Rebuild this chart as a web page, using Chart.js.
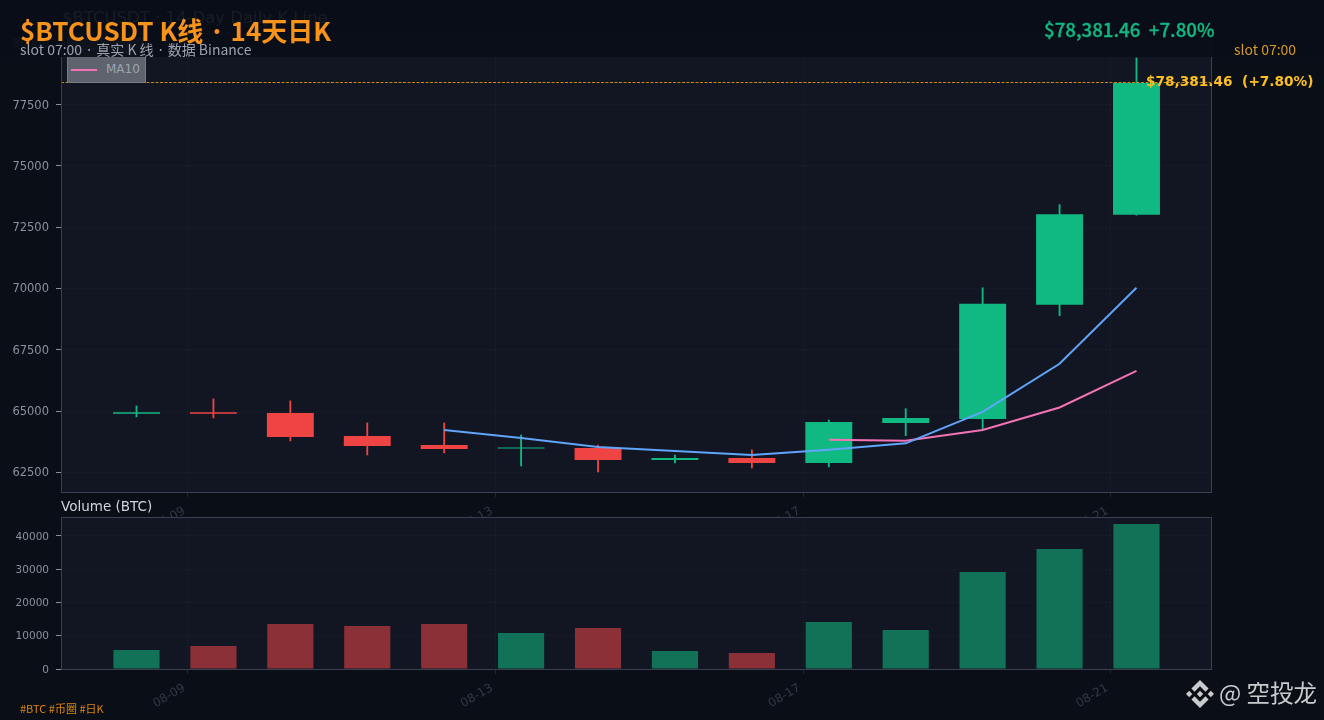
<!DOCTYPE html>
<html>
<head>
<meta charset="utf-8">
<style>
  html, body { margin: 0; padding: 0; background: #0a0e17; }
  #page { position: relative; width: 1324px; height: 720px; overflow: hidden; background: #0a0e17; font-family: "Noto Sans CJK JP", "Noto Sans CJK SC", "Noto Sans", sans-serif; }
  canvas { position: absolute; left: 0; }
  #page div, #page svg { position: absolute; white-space: pre; }
  #ghost { left: 62px; top: 8px; font: 16.5px "DejaVu Sans"; color: #e5e7eb; }
  #topBand { left: 0; top: 0; width: 1324px; height: 57px; background: rgba(10, 14, 23, 0.94); }
  #legendBox { left: 67px; top: 37px; width: 77px; height: 44px; background: #5f636e; border: 1px solid #777b85; }
  .swatch { left: 71px; width: 26px; height: 2px; }
  .legendText { left: 106px; font: 12px "DejaVu Sans"; color: #9ca3af; }
  #title { left: 20px; top: 11px; font-size: 26px; line-height: 38px; font-weight: 700; color: #f7931a; }
  #subtitle { left: 20px; top: 39px; font-size: 14px; line-height: 20px; color: #9ca3af; }
  #price { left: 1044px; top: 16px; font-size: 18.7px; line-height: 26px; font-weight: 500; color: #10b981; -webkit-text-stroke: 0.3px #10b981; }
  #slot { left: 1234px; top: 39px; font-size: 14px; line-height: 20px; color: #d39a2a; }
  #lastLabel { left: 1146px; top: 73px; font: bold 13.7px "DejaVu Sans"; color: #fbbf24; }
  #volTitle { left: 61px; top: 498px; font: 13.5px "DejaVu Sans"; color: #d1d5db; }
  #tags { left: 20px; top: 700px; font-size: 11px; line-height: 16px; color: #d9860f; }
  #mark { left: 1219px; top: 675px; font-size: 23.5px; line-height: 34px; color: #c9cbcd; }
</style>
</head>
<body>
<div id="page">
  <canvas id="chartPrecio" width="1324" height="560" style="top:0;width:1324px;height:560px"></canvas>
  <canvas id="chartVolumen" width="1324" height="210" style="top:510px;width:1324px;height:210px"></canvas>

  <div id="legendBox"></div>
  <div class="swatch" style="top:48px;background:#60a5fa"></div>
  <div class="legendText" style="top:42px">MA5</div>
  <div class="swatch" style="top:69px;background:#f472b6"></div>
  <div class="legendText" style="top:62px">MA10</div>

  <div id="ghost">$BTCUSDT · 14-Day Daily K Line</div>
  <div id="topBand"></div>

  <div id="title">$BTCUSDT K线 · 14天日K</div>
  <div id="subtitle">slot 07:00 · 真实 K 线 · 数据 Binance</div>
  <div id="price">$78,381.46  +7.80%</div>
  <div id="slot">slot 07:00</div>
  <div id="lastLabel">$78,381.46  (+7.80%)</div>
  <div id="volTitle">Volume (BTC)</div>
  <div id="tags">#BTC #币圈 #日K</div>
  <svg style="left:1186px;top:680px" width="28" height="28" viewBox="0 0 126.61 126.61" fill="#c9cbcd">
    <path d="M38.73 53.2l24.59-24.58 24.6 24.6 14.3-14.31L63.32 0 24.43 38.9z"/>
    <path d="M0 63.31l14.3-14.31 14.31 14.31-14.31 14.3z"/>
    <path d="M38.73 73.41l24.59 24.59 24.6-24.6 14.31 14.29-38.9 38.91-38.91-38.88z"/>
    <path d="M98 63.31l14.3-14.31 14.31 14.3-14.31 14.32z"/>
    <path d="M77.83 63.3L63.32 48.78 52.59 59.51l-1.24 1.23-2.54 2.54 14.51 14.5 14.51-14.47z"/>
  </svg>
  <div id="mark">@ 空投龙</div>
</div>

<script src="https://cdn.jsdelivr.net/npm/chart.js@4/dist/chart.umd.js"></script>
<script>
// dia del mes + 8h, una vela por dia
const dias = [8, 9, 10, 11, 12, 13, 14, 15, 16, 17, 18, 19, 20, 21];
const horaVela = 1 / 3;

const aperturas = [64890, 64960, 64930, 63990, 63620, 63480, 63500, 63010, 63090, 62890, 64520, 64680, 69340, 73010];
const cierres = [64960, 64890, 63950, 63580, 63460, 63500, 63010, 63090, 62890, 64560, 64720, 69378, 73030, 78381.46];
const maximos = [65214, 65500, 65420, 64520, 64520, 64030, 63620, 63215, 63420, 64640, 65100, 70030, 73420, 79400];
const minimos = [64765, 64725, 63785, 63215, 63300, 62765, 62520, 62890, 62685, 62725, 64000, 64235, 68890, 72990];

const ma5 = [null, null, null, null, 64235, 63908, 63540, 63380, 63215, 63430, 63690, 64970, 66930, 70030];
const ma10 = [null, null, null, null, null, null, null, null, null, 63830, 63790, 64235, 65150, 66640];

const volumenes = [5714, 6900, 13530, 12930, 13530, 10830, 12330, 5410, 4810, 14130, 11730, 29170, 36090, 43600];

const ticksPrecio = [62500, 65000, 67500, 70000, 72500, 75000, 77500, 80000];
const ticksVolumen = [0, 10000, 20000, 30000, 40000];
const ticksDia = [9, 13, 17, 21];
const etiquetasDia = ["08-09", "08-13", "08-17", "08-21"];

const VERDE = "#10b981";
const ROJO = "#ef4444";
const FONDO_PLOT = "#111622";
const BORDE = "#3a4052";
const GRID = "#191e29";
const TEXTO_TICK = "#8b909b";

const xVela = dias.map(d => d + horaVela);
const esVerde = aperturas.map((a, i) => cierres[i] >= a);
const colorVela = esVerde.map(v => (v ? VERDE : ROJO));
const colorVolumen = esVerde.map(v => (v ? "#117257" : "#8b3036"));

const fondoPlot = {
    id: "fondoPlot",
    beforeDraw(chart) {
        const a = chart.chartArea;
        chart.ctx.save();
        chart.ctx.fillStyle = FONDO_PLOT;
        chart.ctx.fillRect(a.left, a.top, a.right - a.left, a.bottom - a.top);
        chart.ctx.restore();

        // ajuste fino de las etiquetas de los ejes
        chart.scales.y.getLabelItems().forEach(it => { it.options.translation[1] += 1; });
        chart.scales.x.getLabelItems().forEach(it => { it.options.translation[0] -= 3.5; });
    },
    afterDraw(chart) {
        const a = chart.chartArea;
        chart.ctx.save();
        chart.ctx.strokeStyle = BORDE;
        chart.ctx.lineWidth = 1;
        chart.ctx.strokeRect(a.left + 0.5, a.top + 0.5, a.right - a.left, a.bottom - a.top);
        chart.ctx.restore();
    }
};

const lineaUltimo = {
    id: "lineaUltimo",
    afterDatasetsDraw(chart) {
        const a = chart.chartArea;
        const y = Math.floor(chart.scales.y.getPixelForValue(cierres[cierres.length - 1])) + 0.5;
        const ctx = chart.ctx;
        ctx.save();
        ctx.strokeStyle = "#c98a12";
        ctx.lineWidth = 1;
        ctx.setLineDash([3, 1.5]);
        ctx.beginPath();
        ctx.moveTo(a.left, y);
        ctx.lineTo(a.right, y);
        ctx.stroke();
        ctx.restore();
    }
};

function ejeX(alto) {
    return {
        type: "linear",
        offset: false,
        min: 7.3518,
        max: 22.302,
        afterBuildTicks(scale) { scale.ticks = ticksDia.map(v => ({ value: v })); },
        afterFit(scale) {
            scale.height = alto;
            scale.paddingLeft = 0;
            scale.paddingRight = 0;
        },
        grid: { offset: false, color: GRID, tickColor: "#20242e", tickLength: 5 },
        border: { display: false, dash: [2, 2] },
        ticks: {
            autoSkip: false,
            minRotation: 30,
            maxRotation: 30,
            padding: 7,
            color: "#333844",
            font: { family: "DejaVu Sans", size: 12 },
            callback: v => etiquetasDia[ticksDia.indexOf(v)]
        }
    };
}

function ejeY(min, max, valores, tamano) {
    return {
        min,
        max,
        afterBuildTicks(scale) { scale.ticks = valores.map(v => ({ value: v })); },
        afterFit(scale) {
            scale.width = 61;
            scale.paddingTop = 0;
            scale.paddingBottom = 0;
        },
        grid: { color: GRID, tickColor: TEXTO_TICK, tickLength: 5 },
        border: { display: false, dash: [2, 2] },
        ticks: {
            padding: 7,
            color: TEXTO_TICK,
            font: { family: "DejaVu Sans", size: tamano },
            callback: v => String(v)
        }
    };
}

new Chart(document.getElementById("chartPrecio"), {
    type: "bar",
    data: {
        datasets: [
            {
                type: "line",
                label: "MA5",
                data: ma5.map((v, i) => ({ x: xVela[i], y: v })),
                borderColor: "#60a5fa",
                borderWidth: 2,
                pointRadius: 0,
                order: 0
            },
            {
                type: "line",
                label: "MA10",
                data: ma10.map((v, i) => ({ x: xVela[i], y: v })),
                borderColor: "#f472b6",
                borderWidth: 2,
                pointRadius: 0,
                order: 1
            },
            {
                label: "Cuerpo",
                data: aperturas.map((a, i) => ({ x: xVela[i], y: [a, cierres[i]] })),
                backgroundColor: colorVela,
                barPercentage: 0.61,
                categoryPercentage: 1,
                minBarLength: 1,
                order: 2
            },
            {
                label: "Mecha",
                data: minimos.map((m, i) => ({ x: xVela[i], y: [m, maximos[i]] })),
                backgroundColor: colorVela,
                barThickness: 1.2,
                order: 3
            }
        ]
    },
    options: {
        responsive: false,
        animation: false,
        devicePixelRatio: 1,
        layout: { padding: { top: 33, right: 113, left: 0, bottom: 0 } },
        datasets: { bar: { grouped: false } },
        plugins: { legend: { display: false }, tooltip: { enabled: false } },
        scales: {
            x: ejeX(68),
            y: ejeY(61705, 80416, ticksPrecio, 11.5)
        }
    },
    plugins: [fondoPlot, lineaUltimo]
});

new Chart(document.getElementById("chartVolumen"), {
    type: "bar",
    data: {
        datasets: [{
            label: "Volume (BTC)",
            data: volumenes.map((v, i) => ({ x: xVela[i], y: v })),
            backgroundColor: colorVolumen,
            barPercentage: 0.6,
            categoryPercentage: 1
        }]
    },
    options: {
        responsive: false,
        animation: false,
        devicePixelRatio: 1,
        layout: { padding: { top: 7, right: 113, left: 0, bottom: 0 } },
        plugins: { legend: { display: false }, tooltip: { enabled: false } },
        scales: {
            x: ejeX(51),
            y: ejeY(0, 45700, ticksVolumen, 10.5)
        }
    },
    plugins: [fondoPlot]
});
</script>
</body>
</html>
